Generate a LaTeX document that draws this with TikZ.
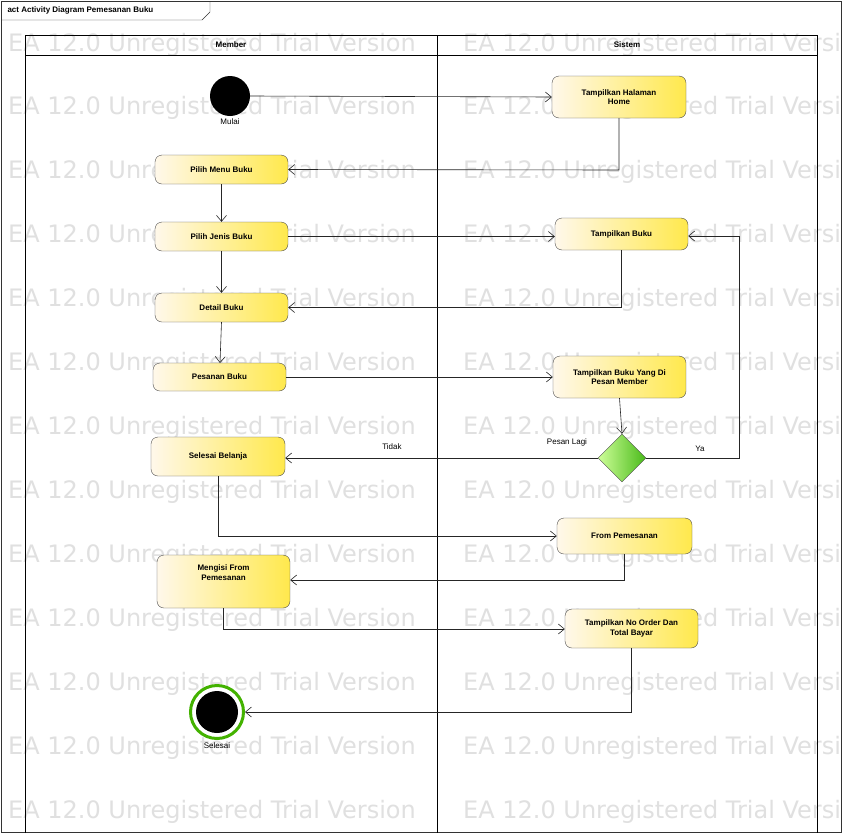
\documentclass[tikz,border=0pt]{standalone}
\usepackage{fontspec}
\setmainfont{Liberation Sans}
\newfontfamily\wmfont{DejaVu Sans}
\usetikzlibrary{arrows.meta,shapes.geometric}
\begin{document}
\begin{tikzpicture}[x=1pt,y=-1pt,
  act/.style={draw=black!70,rounded corners=7pt,left color=yellow!30!orange!8!white,right color=yellow!75!orange!70,
    font=\bfseries\fontsize{8}{9.5}\selectfont,align=center,inner sep=0pt},
  flow/.style={draw=black!85,line width=0.6pt,-{Straight Barb[length=6pt,width=10pt]}},
  lbl/.style={font=\fontsize{8}{9}\selectfont},
  wm/.style={text=black!12,font=\wmfont\fontsize{24}{24}\selectfont,anchor=west,inner sep=0pt}]
\useasboundingbox (0,0) rectangle (842,833);
\fill[white] (0,0) rectangle (842,833);
% watermark
\begin{scope}
\clip (0,0) rectangle (437,833);
\foreach \y in {45,108,172,236,300,364,428,492,556,620,684,748,812}
  \node[wm] at (8,\y) {EA 12.0 Unregistered Trial Version};
\end{scope}
\begin{scope}
\clip (437,0) rectangle (842,833);
\foreach \y in {45,108,172,236,300,364,428,492,556,620,684,748,812}
  \node[wm] at (463,\y) {EA 12.0 Unregistered Trial Version};
\end{scope}
% frame
\draw[black!80] (1,1) rectangle (841,832);
\draw[black!80] (1,20) -- (202,20) -- (210,12) -- (210,1);
\node[anchor=west,font=\bfseries\fontsize{8}{9}\selectfont] (title) at (4,10) {act Activity Diagram Pemesanan Buku};
% lanes
\draw[black] (25,833) -- (25,35) -- (817,35) -- (817,833);
\draw[black] (25,55) -- (817,55);
\draw[black] (437,35) -- (437,833);
\node[font=\bfseries\fontsize{8}{9}\selectfont] (lm) at (231,45) {Member};
\node[font=\bfseries\fontsize{8}{9}\selectfont] (ls) at (627,45) {Sistem};
% nodes
\node[circle,fill=black,minimum size=40pt,inner sep=0pt] (start) at (230,96) {};
\node[lbl] (startl) at (230,122) {Mulai};
\node[act,minimum width=134pt,minimum height=42pt] (home) at (619,97) {Tampilkan Halaman\\Home};
\node[act,minimum width=133pt,minimum height=29pt] (menu) at (221.5,169.5) {Pilih Menu Buku};
\node[act,minimum width=133pt,minimum height=29pt] (jenis) at (221.5,236.5) {Pilih Jenis Buku};
\node[act,minimum width=133pt,minimum height=32pt] (tbuku) at (621.5,234) {Tampilkan Buku};
\node[act,minimum width=133pt,minimum height=29pt] (detail) at (221.5,307.5) {Detail Buku};
\node[act,minimum width=133pt,minimum height=28pt] (pesan) at (219.5,377) {Pesanan Buku};
\node[act,minimum width=133pt,minimum height=42pt] (tpesan) at (619.5,377) {Tampilkan Buku Yang Di\\Pesan Member};
\node[diamond,draw=black!70,left color=green!30!lime!40,right color=green!60!lime!70!black!90,minimum width=48pt,minimum height=48pt,inner sep=0pt] (dec) at (622,458) {};
\node[act,minimum width=134pt,minimum height=39pt] (selesai) at (218,456.5) {Selesai Belanja};
\node[act,minimum width=135pt,minimum height=36pt] (from) at (624.5,536) {From Pemesanan};
\node[act,minimum width=133pt,minimum height=53pt] (isi) at (223.5,581.5) {Mengisi From\\Pemesanan\\[8pt]};
\node[act,minimum width=133pt,minimum height=39pt] (order) at (631.5,628.5) {Tampilkan No Order Dan\\Total Bayar};
\node[circle,draw=green!50!lime!70!black,line width=3pt,fill=white,minimum size=53pt,inner sep=0pt] (endo) at (217,712) {};
\node[circle,fill=black,minimum size=42pt,inner sep=0pt] (endi) at (217,712) {};
\node[lbl] (endl) at (217,746) {Selesai};
% connectors
\draw[flow] (start.east) -- (home.west);
\draw[flow] (home.south) -- (619,170) -- (menu.east);
\draw[flow] (menu.south) -- (jenis.north);
\draw[flow] (jenis.east) -- (tbuku.west |- jenis.east);
\draw[flow] (tbuku.south) -- (621.5,307.5) -- (detail.east);
\draw[flow] (jenis.south) -- (detail.north);
\draw[flow] (detail.south) -- (220,363);
\draw[flow] (pesan.east) -- (tpesan.west);
\draw[flow] (tpesan.south) -- (dec.north);
\draw[flow] (dec.east) -- (739,458) -- (739,236) -- (tbuku.east |- 0,236);
\draw[flow] (dec.west) -- (selesai.east |- dec.west);
\draw[flow] (selesai.south) -- (218,536) -- (from.west);
\draw[flow] (from.south) -- (624.5,580) -- (isi.east |- 0,580);
\draw[flow] (isi.south) -- (223.5,629) -- (order.west |- 0,629);
\draw[flow] (order.south) -- (631.5,712) -- (endo.east);
\node[lbl] (ya) at (700,449) {Ya};
\node[lbl] (tidak) at (392,447) {Tidak};
\node[lbl] (lagi) at (567,442) {Pesan Lagi};
\end{tikzpicture}
\end{document}
